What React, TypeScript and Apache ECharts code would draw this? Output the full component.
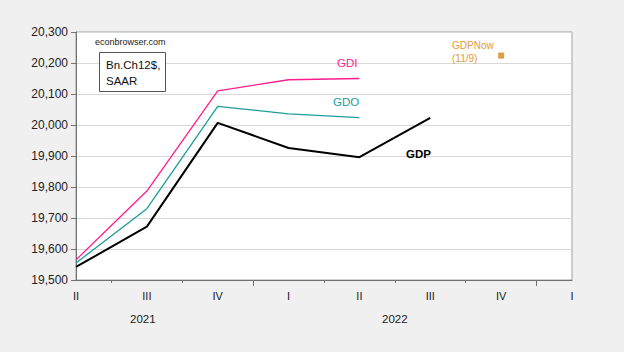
import React, { useEffect, useRef } from "react";
import * as echarts from "echarts";

const quarterLabels = ["II", "III", "IV", "I", "II", "III", "IV", "I"];
const yearLabels = ["2021", "2022"];
const gdp = [19542, 19672, 20007, 19926, 19896, 20023];
const gdi = [19565, 19787, 20110, 20146, 20150];
const gdo = [19555, 19730, 20060, 20036, 20024];
const gdpNow = [[6, 20224]];

export default function App() {
  const ref = useRef<HTMLDivElement>(null);
  useEffect(() => {
    if (!ref.current) return;
    const chart = echarts.init(ref.current, null, { renderer: "svg" });
    const font = "Liberation Sans, Arial, sans-serif";
    const slots: string[] = [];
    for (let i = 0; i < 15; i++) slots.push(i % 2 === 0 ? quarterLabels[i / 2] : "");
    const toPairs = (arr: number[]) => arr.map((v, i) => [i, v]);
    chart.setOption({
      animation: false,
      backgroundColor: "#F0F0F0",
      textStyle: { fontFamily: font },
      grid: {
        left: 76,
        right: 52,
        top: 32,
        bottom: 72,
        show: true,
        backgroundColor: "#FFFFFF",
        borderColor: "#A0A0A0",
        borderWidth: 1,
      },
      xAxis: [
        { type: "value", min: 0, max: 7, interval: 1, show: false, position: "bottom" },
        {
          type: "category",
          data: slots,
          boundaryGap: false,
          position: "bottom",
          axisLine: { show: true, lineStyle: { color: "#707070", width: 1 } },
          axisTick: {
            show: true,
            interval: (i: number) => i % 2 === 1,
            length: 3,
            lineStyle: { color: "#707070" },
          },
          axisLabel: {
            interval: (i: number) => i % 2 === 0,
            color: "#222",
            fontSize: 11,
            margin: 10,
            fontFamily: font,
          },
          splitLine: { show: false },
        },
        {
          type: "category",
          data: slots,
          boundaryGap: false,
          position: "bottom",
          axisLine: { show: false },
          axisTick: {
            show: true,
            interval: (i: number) => i === 5 || i === 13,
            length: 6,
            lineStyle: { color: "#707070" },
          },
          axisLabel: { show: false },
          splitLine: { show: false },
        },
      ],
      yAxis: {
        type: "value",
        min: 19500,
        max: 20300,
        interval: 100,
        axisLine: { show: true, lineStyle: { color: "#707070" } },
        axisTick: { show: true, length: 5, lineStyle: { color: "#707070" } },
        axisLabel: {
          color: "#222",
          fontSize: 12,
          margin: 8,
          fontFamily: font,
          formatter: (v: number) => v.toLocaleString("en-US"),
        },
        splitLine: { show: true, lineStyle: { color: "#D8D8D8", width: 1 } },
      },
      series: [
        {
          type: "line",
          name: "GDI",
          xAxisIndex: 0,
          data: toPairs(gdi),
          showSymbol: false,
          lineStyle: { color: "#FF1C8E", width: 1.3 },
          itemStyle: { color: "#FF1C8E" },
        },
        {
          type: "line",
          name: "GDO",
          xAxisIndex: 0,
          data: toPairs(gdo),
          showSymbol: false,
          lineStyle: { color: "#1E9C9C", width: 1.3 },
          itemStyle: { color: "#1E9C9C" },
        },
        {
          type: "line",
          name: "GDP",
          xAxisIndex: 0,
          data: toPairs(gdp),
          showSymbol: false,
          lineStyle: { color: "#000000", width: 2 },
          itemStyle: { color: "#000000" },
        },
        {
          type: "scatter",
          name: "GDPNow",
          xAxisIndex: 0,
          data: gdpNow,
          symbol: "rect",
          symbolSize: 6,
          itemStyle: { color: "#D4861A" },
        },
      ],
      graphic: [
        {
          type: "text",
          z: 100,
          left: 95,
          top: 37,
          style: { text: "econbrowser.com", fontSize: 9, fill: "#222", fontFamily: font },
        },
        {
          type: "rect",
          z: 100,
          shape: { x: 99.5, y: 52.5, width: 66, height: 39 },
          style: { fill: "#FFFFFF", stroke: "#555", lineWidth: 1 },
        },
        {
          type: "text",
          z: 101,
          left: 106,
          top: 57,
          style: { text: "Bn.Ch12$,\nSAAR", fontSize: 11.5, lineHeight: 16, fill: "#111", fontFamily: font },
        },
        {
          type: "text",
          z: 100,
          left: 337,
          top: 57,
          style: { text: "GDI", fontSize: 11.5, fill: "#FF1C8E", fontFamily: font },
        },
        {
          type: "text",
          z: 100,
          left: 333,
          top: 96,
          style: { text: "GDO", fontSize: 11.5, fill: "#1E9C9C", fontFamily: font },
        },
        {
          type: "text",
          z: 100,
          left: 406,
          top: 148,
          style: { text: "GDP", fontSize: 11.5, fontWeight: "bold", fill: "#000", fontFamily: font },
        },
        {
          type: "text",
          z: 100,
          left: 452,
          top: 39,
          style: { text: "GDPNow\n(11/9)", fontSize: 10, lineHeight: 13, fill: "#E29A3C", fontFamily: font },
        },
        {
          type: "text",
          z: 100,
          left: 130,
          top: 313,
          style: { text: yearLabels[0], fontSize: 11.5, fill: "#222", fontFamily: font },
        },
        {
          type: "text",
          z: 100,
          left: 382,
          top: 313,
          style: { text: yearLabels[1], fontSize: 11.5, fill: "#222", fontFamily: font },
        },
      ],
    });
    return () => chart.dispose();
  }, []);
  return (
    <div
      ref={ref}
      style={{ position: "fixed", left: 0, top: 0, width: 624, height: 352 }}
    />
  );
}
